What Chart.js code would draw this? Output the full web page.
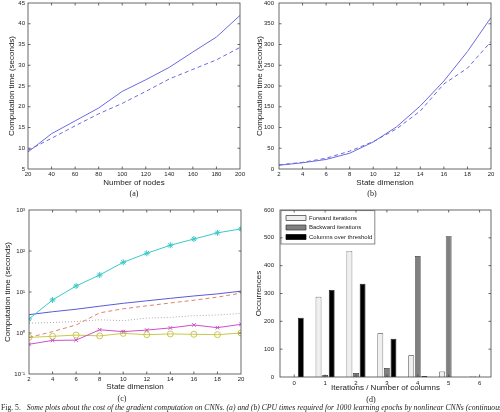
<!DOCTYPE html>
<html>
<head>
<meta charset="utf-8">
<script src="https://cdn.jsdelivr.net/npm/chart.js@4.4.1/dist/chart.umd.min.js"></script>
<style>
  html, body { margin: 0; padding: 0; background: #fff; }
  #fig { position: relative; width: 500px; height: 412px; overflow: hidden; }
  .panel { position: absolute; width: 250px; height: 190px; }
  .sub { position: absolute; font: 8px 'Liberation Serif', 'Times New Roman', serif; color: #222; transform: translate(-50%, -50%); }
  #caption { position: absolute; left: 1px; top: 403px; white-space: nowrap; font: 7.7px 'Liberation Serif', 'Times New Roman', serif; color: #222; }
</style>
</head>
<body>
<div id="fig">
  <div class="panel" style="left:0;top:0"><canvas id="chart-a" width="250" height="190"></canvas></div>
  <div class="panel" style="left:250px;top:0"><canvas id="chart-b" width="250" height="190"></canvas></div>
  <div class="panel" style="left:0;top:205px"><canvas id="chart-c" width="250" height="190"></canvas></div>
  <div class="panel" style="left:250px;top:205px"><canvas id="chart-d" width="250" height="190"></canvas></div>
  <div class="sub" style="left:134px;top:193px">(a)</div>
  <div class="sub" style="left:372px;top:193px">(b)</div>
  <div class="sub" style="left:122px;top:398px">(c)</div>
  <div class="sub" style="left:371px;top:399px">(d)</div>
  <div id="caption">Fig. 5.&nbsp;&nbsp;&nbsp;<i>Some plots about the cost of the gradient computation on CNNs. (a) and (b) CPU times required for 1000 learning epochs by nonlinear CNNs (continuous</i></div>
</div>
<script>
// (a) time vs number of nodes
const nodes = [20, 40, 60, 80, 100, 120, 140, 160, 180, 200];
const nodesSolid = [9.1, 13.5, 16.6, 19.7, 23.7, 26.5, 29.5, 33.2, 36.8, 42.0];
const nodesDashed = [9.5, 12.4, 15.4, 18.3, 20.8, 23.7, 26.7, 29.0, 31.3, 34.3];

// (b) time vs state dimension
const stateDims = [2, 4, 6, 8, 10, 12, 14, 16, 18, 20];
const dimSolid = [9, 15, 23, 38, 65, 102, 152, 212, 283, 365];
const dimDashed = [10, 16, 26, 43, 66, 97, 140, 205, 243, 307];

// (c) log plot, several methods
const cyanTimes = [2.2, 6.4, 14, 26, 53, 88, 138, 196, 277, 346];
const blueTimes = [2.8, 3.3, 3.8, 4.5, 5.3, 6.1, 7.0, 8.0, 9.0, 10.5];
const redTimes = [0.78, 1.08, 1.57, 3.1, 3.9, 4.6, 5.4, 6.3, 7.5, 9.4];
const grayTimes = [1.73, 1.8, 1.9, 2.1, 2.0, 2.3, 2.4, 2.65, 2.75, 3.0];
const magentaTimes = [0.53, 0.66, 0.67, 1.2, 1.08, 1.18, 1.33, 1.57, 1.35, 1.63];
const yellowTimes = [0.78, 0.83, 0.89, 0.85, 0.98, 0.91, 0.95, 0.93, 0.91, 1.0];
const logTicks = [0.1, 1, 10, 100, 1000];
const logTickLabels = ['10\u207B\u00B9', '10\u2070', '10\u00B9', '10\u00B2', '10\u00B3'];

// (d) histogram of iterations
const iterCats = [0, 1, 2, 3, 4, 5, 6];
const forwardIter = [0, 288, 453, 157, 78, 20, 3];
const backwardIter = [0, 7, 14, 32, 435, 507, 0];
const columnsOver = [213, 313, 335, 137, 4, 0, 0];

Chart.defaults.font.family = "'Liberation Sans', Arial, Helvetica, sans-serif";
Chart.defaults.font.size = 6;
Chart.defaults.color = '#222';

function points(xs, ys) {
    return xs.map(function(x, i) { return { x: x, y: ys[i] }; });
}

// force axis size so the plot boxes land where they should
function fixSize(size) {
    return function(scale) {
        if (scale.isHorizontal()) scale.height = size; else scale.width = size;
        scale.paddingLeft = 0; scale.paddingRight = 0;
        scale.paddingTop = 0; scale.paddingBottom = 0;
    };
}

// matlab-like box with inward ticks
const framePlugin = {
    id: 'frame',
    afterDatasetsDraw(chart) {
        const a = chart.chartArea, ctx = chart.ctx;
        const xs = chart.scales.x, ys = chart.scales.y;
        const tl = 2.5;
        ctx.save();
        ctx.strokeStyle = '#444';
        ctx.lineWidth = 0.8;
        ctx.strokeRect(a.left, a.top, a.right - a.left, a.bottom - a.top);
        ctx.beginPath();
        xs.ticks.forEach(function(t, i) {
            const px = xs.getPixelForTick(i);
            if (px <= a.left + 1 || px >= a.right - 1) return;
            ctx.moveTo(px, a.bottom); ctx.lineTo(px, a.bottom - tl);
            ctx.moveTo(px, a.top); ctx.lineTo(px, a.top + tl);
        });
        ys.ticks.forEach(function(t, i) {
            const py = ys.getPixelForTick(i);
            if (py <= a.top + 1 || py >= a.bottom - 1) return;
            ctx.moveTo(a.left, py); ctx.lineTo(a.left + tl, py);
            ctx.moveTo(a.right, py); ctx.lineTo(a.right - tl, py);
        });
        ctx.stroke();
        ctx.restore();
    }
};

// place the legend of (d) in the top left corner and draw its outline
const legendBoxPlugin = {
    id: 'legendBox',
    beforeDraw(chart) {
        chart.legend.left = chart.chartArea.left + 2.5;
        chart.legend.top = chart.chartArea.top + 1.5;
    },
    afterDraw(chart) {
        const lg = chart.legend;
        const a = chart.chartArea;
        const ctx = chart.ctx;
        ctx.save();
        ctx.font = '6px ' + Chart.defaults.font.family;
        let textW = 0;
        lg.legendItems.forEach(function(item) { textW = Math.max(textW, ctx.measureText(item.text).width); });
        const left = a.left + 1;
        const top = a.top + 0.7;
        const right = lg.left + 3.5 + 20 + 3 + textW + 2.5;
        const bottom = lg.top + 3.5 + lg.legendItems.length * 9.5 + 0.5;
        ctx.strokeStyle = '#555';
        ctx.lineWidth = 0.7;
        ctx.strokeRect(left, top, right - left, bottom - top);
        ctx.restore();
    }
};

function titleFont(size) {
    return { size: size, family: "'Liberation Sans', Arial, sans-serif" };
}

function baseOptions(cfg) {
    return {
        responsive: false,
        animation: false,
        events: [],
        layout: { padding: { top: cfg.top, right: cfg.right, left: 0, bottom: 0 } },
        plugins: { legend: { display: false }, tooltip: { enabled: false } },
        elements: { point: { radius: 0 }, line: { borderWidth: 1, tension: 0 } },
        scales: {
            x: {
                type: 'linear',
                min: cfg.xMin, max: cfg.xMax,
                grid: { display: false, drawTicks: false, tickLength: 0 },
                border: { display: false },
                ticks: { stepSize: cfg.xStep, padding: cfg.xTickPad, maxRotation: 0, autoSkip: false },
                title: { display: true, text: cfg.xTitle, font: titleFont(8), padding: { top: 0, bottom: cfg.xTitlePad }, color: '#222' },
                afterFit: fixSize(cfg.xSize)
            },
            y: {
                type: 'linear',
                min: cfg.yMin, max: cfg.yMax,
                grid: { display: false, drawTicks: false, tickLength: 0 },
                border: { display: false },
                ticks: { stepSize: cfg.yStep, padding: cfg.yTickPad },
                title: { display: true, text: cfg.yTitle, font: titleFont(8), padding: { top: cfg.yTitlePad, bottom: 0 }, color: '#222' },
                afterFit: fixSize(cfg.ySize)
            }
        }
    };
}

const lineBlue = '#6a6ae0';

// (a)
new Chart(document.getElementById('chart-a'), {
    type: 'line',
    data: {
        datasets: [
            { data: points(nodes, nodesSolid), borderColor: lineBlue },
            { data: points(nodes, nodesDashed), borderColor: lineBlue, borderDash: [4, 3] }
        ]
    },
    options: baseOptions({ top: 3, right: 10, xMin: 20, xMax: 200, xStep: 20, yMin: 5, yMax: 45, yStep: 5,
        xTitle: 'Number of nodes', yTitle: 'Computation time (seconds)', xSize: 21, ySize: 28,
        xTitlePad: 2.2, yTitlePad: 7, yTickPad: 3, xTickPad: 1.5 }),
    plugins: [framePlugin]
});

// (b)
new Chart(document.getElementById('chart-b'), {
    type: 'line',
    data: {
        datasets: [
            { data: points(stateDims, dimSolid), borderColor: lineBlue },
            { data: points(stateDims, dimDashed), borderColor: lineBlue, borderDash: [4, 3] }
        ]
    },
    options: baseOptions({ top: 3, right: 9, xMin: 2, xMax: 20, xStep: 2, yMin: 0, yMax: 400, yStep: 50,
        xTitle: 'State dimension', yTitle: 'Computation time (seconds)', xSize: 21, ySize: 29,
        xTitlePad: 2.2, yTitlePad: 5.2, yTickPad: 5, xTickPad: 1.5 }),
    plugins: [framePlugin]
});

// (c)
const optsC = baseOptions({ top: 5, right: 9, xMin: 2, xMax: 20, xStep: 2, yMin: 0.1, yMax: 1000, yStep: 1,
    xTitle: 'State dimension', yTitle: 'Computation time (seconds)', xSize: 21, ySize: 29,
    xTitlePad: 3.2, yTitlePad: 2.5, yTickPad: 4, xTickPad: 2 });
optsC.scales.y.type = 'logarithmic';
optsC.scales.y.afterBuildTicks = function(scale) {
    scale.ticks = logTicks.map(function(v) { return { value: v }; });
};
optsC.scales.y.ticks.callback = function(value) {
    const i = logTicks.indexOf(value);
    return i >= 0 ? logTickLabels[i] : '';
};
new Chart(document.getElementById('chart-c'), {
    type: 'line',
    data: {
        datasets: [
            { data: points(stateDims, cyanTimes), borderColor: '#3cc8c8', pointStyle: 'star', pointRadius: 3,
              pointBorderColor: '#3cc8c8', pointBorderWidth: 1 },
            { data: points(stateDims, blueTimes), borderColor: '#5a5ad8' },
            { data: points(stateDims, redTimes), borderColor: '#e0806c', borderDash: [4, 3] },
            { data: points(stateDims, grayTimes), borderColor: '#aaaaaa', borderDash: [1, 2] },
            { data: points(stateDims, magentaTimes), borderColor: '#cc50cc', pointStyle: 'crossRot', pointRadius: 2.5,
              pointBorderColor: '#cc50cc', pointBorderWidth: 1 },
            { data: points(stateDims, yellowTimes), borderColor: '#c8c84c', pointStyle: 'circle', pointRadius: 3,
              pointBorderColor: '#c8c84c', pointBackgroundColor: 'rgba(0,0,0,0)', pointBorderWidth: 1 }
        ]
    },
    options: optsC,
    plugins: [framePlugin]
});

// (d)
const optsD = baseOptions({ top: 5, right: 9, xMin: -0.46, xMax: 6.37, xStep: 1, yMin: 0, yMax: 600, yStep: 100,
    xTitle: 'Iterations / Number of columns', yTitle: 'Occurrences', xSize: 18, ySize: 30,
    xTitlePad: 2.2, yTitlePad: 4.2, yTickPad: 6, xTickPad: 3 });
optsD.scales.x.offset = false;
optsD.scales.x.afterBuildTicks = function(scale) {
    scale.ticks = iterCats.map(function(v) { return { value: v }; });
};
optsD.plugins.legend = {
    display: true,
    position: 'chartArea',
    align: 'start',
    labels: { boxWidth: 20, boxHeight: 5, padding: 3.5, color: '#222', font: { size: 6 } }
};
optsD.datasets = { bar: { categoryPercentage: 0.64, barPercentage: 0.88 } };
new Chart(document.getElementById('chart-d'), {
    type: 'bar',
    data: {
        datasets: [
            { label: 'Forward iterations', data: points(iterCats, forwardIter), backgroundColor: '#efefef', borderColor: '#333', borderWidth: 0.7 },
            { label: 'Backward iterations', data: points(iterCats, backwardIter), backgroundColor: '#808080', borderColor: '#333', borderWidth: 0.7 },
            { label: 'Columns over threshold', data: points(iterCats, columnsOver), backgroundColor: '#000000', borderColor: '#000', borderWidth: 0.7 }
        ]
    },
    options: optsD,
    plugins: [framePlugin, legendBoxPlugin]
});
</script>
</body>
</html>
